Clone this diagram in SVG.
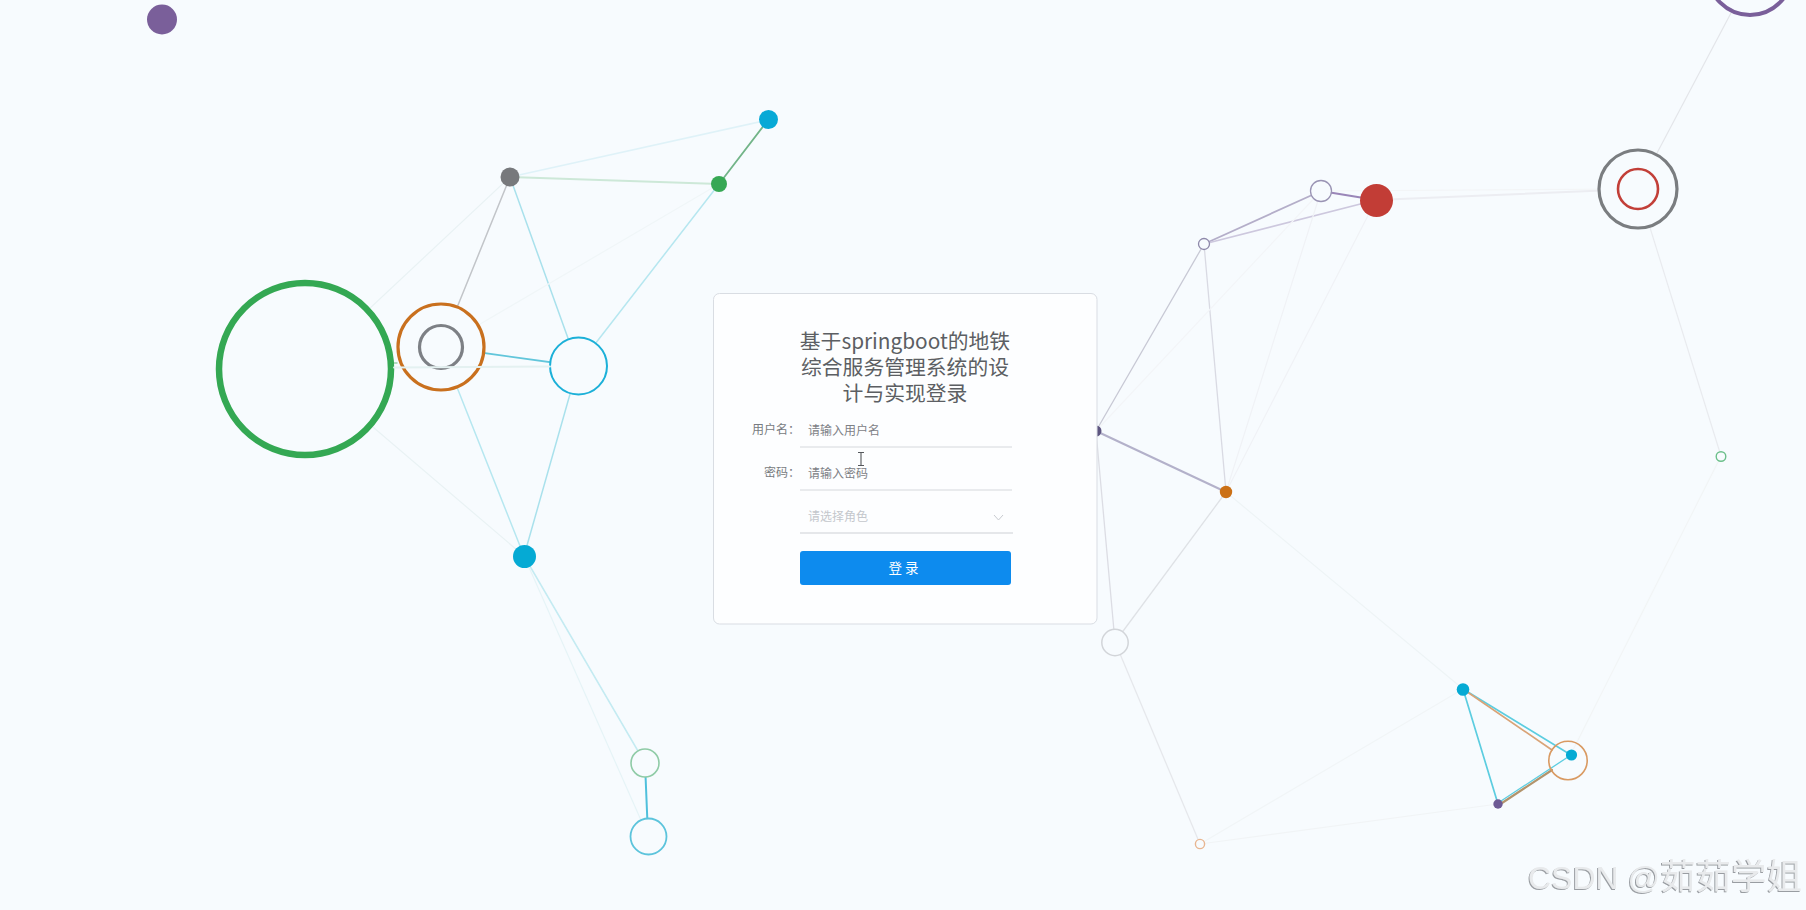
<svg xmlns="http://www.w3.org/2000/svg" width="1806" height="910" viewBox="0 0 1806 910">
<style>
.e{fill:none;stroke-linecap:round}
.t{font-family:"Noto Sans CJK SC","Noto Sans",sans-serif}
.lb{font-size:12px;fill:#777b80}
.ph{font-size:12px;fill:#7d8186}
.ti{font-size:20.8px;fill:#5c5f63;text-anchor:middle}
.h{fill:#f7fbfe}
</style>
<defs><filter id="ws" x="-5%" y="-20%" width="110%" height="140%"><feDropShadow dx="-1" dy="1" stdDeviation="0.6" flood-color="#8f9398" flood-opacity="0.9"/></filter></defs>
<rect id="background" width="1806" height="910" fill="#f7fbfe"/>
<g id="connectors" class="e">
<line x1="510" y1="177" x2="768" y2="120" stroke="#dff2f8" stroke-width="1.5"/>
<line x1="510" y1="177" x2="719" y2="184" stroke="#cde8d8" stroke-width="2"/>
<line x1="719" y1="184" x2="768" y2="120" stroke="#72b488" stroke-width="1.8"/>
<line x1="510" y1="177" x2="305" y2="369" stroke="#e9f2f4" stroke-width="1.2"/>
<line x1="510" y1="177" x2="441" y2="347" stroke="#c2c5c9" stroke-width="1.5"/>
<line x1="510" y1="177" x2="578" y2="366" stroke="#a9e1ec" stroke-width="1.5"/>
<line x1="719" y1="184" x2="578" y2="366" stroke="#b6e7f0" stroke-width="1.5"/>
<line x1="719" y1="184" x2="441" y2="347" stroke="#f0f6f8" stroke-width="1.2"/>
<line x1="441" y1="347" x2="578" y2="366" stroke="#62c6db" stroke-width="1.8"/>
<line x1="390" y1="363" x2="397" y2="363" stroke="#9ccfa8" stroke-width="1.5"/>
<line x1="441" y1="347" x2="524" y2="556" stroke="#b6e7f0" stroke-width="1.5"/>
<line x1="578" y1="366" x2="524" y2="556" stroke="#a9e1ec" stroke-width="1.5"/>
<line x1="305" y1="369" x2="524" y2="556" stroke="#e9f2f4" stroke-width="1.2"/>
<line x1="524" y1="556" x2="645" y2="763" stroke="#c4ebf2" stroke-width="1.5"/>
<line x1="524" y1="556" x2="648" y2="836" stroke="#e6f4f7" stroke-width="1.2"/>
<line x1="645" y1="763" x2="648" y2="836" stroke="#4fc0dc" stroke-width="2"/>
<line x1="1204" y1="244" x2="1321" y2="191" stroke="#b4aec9" stroke-width="1.8"/>
<line x1="1204" y1="244" x2="1376" y2="200" stroke="#cdc8de" stroke-width="1.8"/>
<line x1="1321" y1="191" x2="1376" y2="200" stroke="#9a86b8" stroke-width="2.2"/>
<line x1="1376" y1="200" x2="1638" y2="189" stroke="#ecedf2" stroke-width="2"/>
<line x1="1321" y1="191" x2="1638" y2="189" stroke="#f3f5f7" stroke-width="1.2"/>
<line x1="1638" y1="189" x2="1750" y2="-23" stroke="#e4e6ea" stroke-width="1.2"/>
<line x1="1638" y1="189" x2="1721" y2="456" stroke="#e9ebef" stroke-width="1.2"/>
<line x1="1096" y1="431" x2="1204" y2="244" stroke="#c8c9d5" stroke-width="1.3"/>
<line x1="1096" y1="431" x2="1226" y2="492" stroke="#b3b1ca" stroke-width="2"/>
<line x1="1204" y1="244" x2="1226" y2="492" stroke="#d9dae3" stroke-width="1.3"/>
<line x1="1096" y1="431" x2="1321" y2="191" stroke="#f3f5f8" stroke-width="1.2"/>
<line x1="1321" y1="191" x2="1226" y2="492" stroke="#f0f2f6" stroke-width="1.2"/>
<line x1="1376" y1="200" x2="1226" y2="492" stroke="#f0f2f6" stroke-width="1.2"/>
<line x1="1096" y1="431" x2="1115" y2="642" stroke="#dcdde4" stroke-width="1.3"/>
<line x1="1226" y1="492" x2="1115" y2="642" stroke="#dfe2e6" stroke-width="1.3"/>
<line x1="1226" y1="492" x2="1463" y2="689" stroke="#eef4f6" stroke-width="1.2"/>
<line x1="1115" y1="642" x2="1200" y2="844" stroke="#e6e8ec" stroke-width="1.3"/>
<line x1="1200" y1="844" x2="1463" y2="689" stroke="#f1f5f7" stroke-width="1.2"/>
<line x1="1200" y1="844" x2="1498" y2="804" stroke="#f1f4f6" stroke-width="1.2"/>
<line x1="1721" y1="456" x2="1568" y2="760" stroke="#f2f5f6" stroke-width="1.2"/>
<line x1="1463" y1="689" x2="1571" y2="755" stroke="#5ccde0" stroke-width="1.6"/>
<line x1="1463" y1="689" x2="1552" y2="750" stroke="#d9a478" stroke-width="1.7"/>
<line x1="1463" y1="689" x2="1498" y2="804" stroke="#5ccde0" stroke-width="1.7"/>
<line x1="1499" y1="805" x2="1552" y2="770" stroke="#b3946c" stroke-width="2.2"/>
<line x1="1498" y1="803" x2="1571" y2="755" stroke="#5ccde0" stroke-width="1.3"/>
</g>
<g id="n-purple-dot"><circle cx="162" cy="19.5" r="15" fill="#7a5f9a"/></g>
<g id="n-green-big"><circle class="h" cx="305" cy="369" r="86" stroke="#34a853" stroke-width="6.5"/></g>
<g id="n-orange-ring"><circle class="h" cx="441" cy="347" r="43" stroke="#c9701e" stroke-width="3.2"/></g>
<g id="n-gray-inner"><circle fill="none" cx="441" cy="347" r="21.500" stroke="#7d8085" stroke-width="3.200"/></g>
<g id="n-blue-ring"><circle class="h" cx="578.500" cy="366" r="28.500" stroke="#1cb0d8" stroke-width="2"/></g>
<g id="n-gray-dot"><circle cx="510" cy="177" r="9.500" fill="#77797c"/></g>
<g id="n-green-dot"><circle cx="719" cy="184" r="8" fill="#37a854"/></g>
<g id="n-blue-top"><circle cx="768.500" cy="119.500" r="9.500" fill="#07a9d6"/></g>
<g id="n-blue-lower"><circle cx="524.500" cy="556.500" r="11.500" fill="#05aad4"/></g>
<g id="n-green-hollow"><circle class="h" cx="645" cy="763" r="14" stroke="#8fcba6" stroke-width="1.600"/></g>
<g id="n-blue-hollow"><circle class="h" cx="648.500" cy="836.500" r="18" stroke="#5cc4dc" stroke-width="1.800"/></g>
<g id="n-purple-top"><circle class="h" cx="1750" cy="-27" r="42" stroke="#7a5f9a" stroke-width="4"/></g>
<g id="n-gray-ring"><circle class="h" cx="1638" cy="189" r="39" stroke="#7a7d80" stroke-width="3.200"/></g>
<g id="n-red-inner"><circle fill="none" cx="1638" cy="189" r="20" stroke="#c23f38" stroke-width="2.600"/></g>
<g id="n-red-dot"><circle cx="1376.500" cy="200.500" r="16.500" fill="#c23d36"/></g>
<g id="n-white-hollow"><circle class="h" cx="1321" cy="191" r="10.500" stroke="#9a94b4" stroke-width="1.300"/></g>
<g id="n-small-hollow"><circle class="h" cx="1204" cy="244" r="5.500" stroke="#8e88aa" stroke-width="1.300"/></g>
<g id="n-hidden"><circle cx="1096" cy="431" r="5.500" fill="#5d5580"/></g>
<g id="n-orange-dot"><circle cx="1226" cy="492" r="6.200" fill="#cb7015"/></g>
<g id="n-green-small"><circle class="h" cx="1721" cy="456.500" r="4.800" stroke="#6cc08b" stroke-width="1.400"/></g>
<g id="n-gray-hollow"><circle class="h" cx="1115" cy="642.500" r="13.200" stroke="#d2d5d9" stroke-width="1.500"/></g>
<g id="n-peach"><circle class="h" cx="1200" cy="844" r="4.600" stroke="#e8b691" stroke-width="1.400"/></g>
<g id="n-blue-a"><circle cx="1463" cy="689.500" r="6.300" fill="#05aad4"/></g>
<g id="n-orange-small-ring"><circle fill="none" cx="1568" cy="760.500" r="19.200" stroke="#d99a62" stroke-width="1.600"/></g>
<g id="n-blue-b"><circle cx="1571.500" cy="755" r="5.600" fill="#05aad4"/></g>
<g id="n-purple-small"><circle cx="1498" cy="804" r="4.700" fill="#6d5a94"/></g>
<g id="connectors-over" class="e">
<line x1="394" y1="367.500" x2="550" y2="366.500" stroke="#e4f1f1" stroke-width="1.800"/>
</g>
<g id="login-card">
<rect x="713.500" y="293.500" width="383.500" height="330.500" rx="6" fill="#fdfeff" stroke="#d9dde3" stroke-width="1"/>
<text class="t ti" x="905" y="349">基于springboot的地铁</text>
<text class="t ti" x="905" y="375">综合服务管理系统的设</text>
<text class="t ti" x="905" y="401">计与实现登录</text>
<text class="t lb" x="800" y="434" text-anchor="end">用户名：</text>
<text class="t ph" x="808" y="434.500">请输入用户名</text>
<line x1="800" y1="447" x2="1012" y2="447" stroke="#d5d8dc"/>
<text class="t lb" x="800" y="477" text-anchor="end">密码：</text>
<text class="t ph" x="808" y="477.500">请输入密码</text>
<line x1="800" y1="490" x2="1012" y2="490" stroke="#d5d8dc"/>
<text class="t" x="808" y="520.500" font-size="12" fill="#c4c7cc">请选择角色</text>
<path d="M994 515l4.500 5 4.500-5" fill="none" stroke="#c8cbd0"/>
<line x1="800" y1="533" x2="1013" y2="533" stroke="#dcdfe3" stroke-width="1.500"/>
<rect x="800" y="551" width="211" height="34" rx="3" fill="#0d8bee"/>
<text class="t" x="903.500" y="573" font-size="13.500" fill="#fff" text-anchor="middle">登 录</text>
<path id="cursor" d="M858 452.500h6M858 465.500h6M861 452.500v13" fill="none" stroke="#55585c" stroke-width="1.100"/>
</g>
<g id="watermark"><text x="1528" y="889" class="t" filter="url(#ws)" fill="#e8eaec"><tspan font-family="Liberation Sans" font-size="32">CSDN @</tspan><tspan font-size="35.500">茹茹学姐</tspan></text></g>
</svg>
